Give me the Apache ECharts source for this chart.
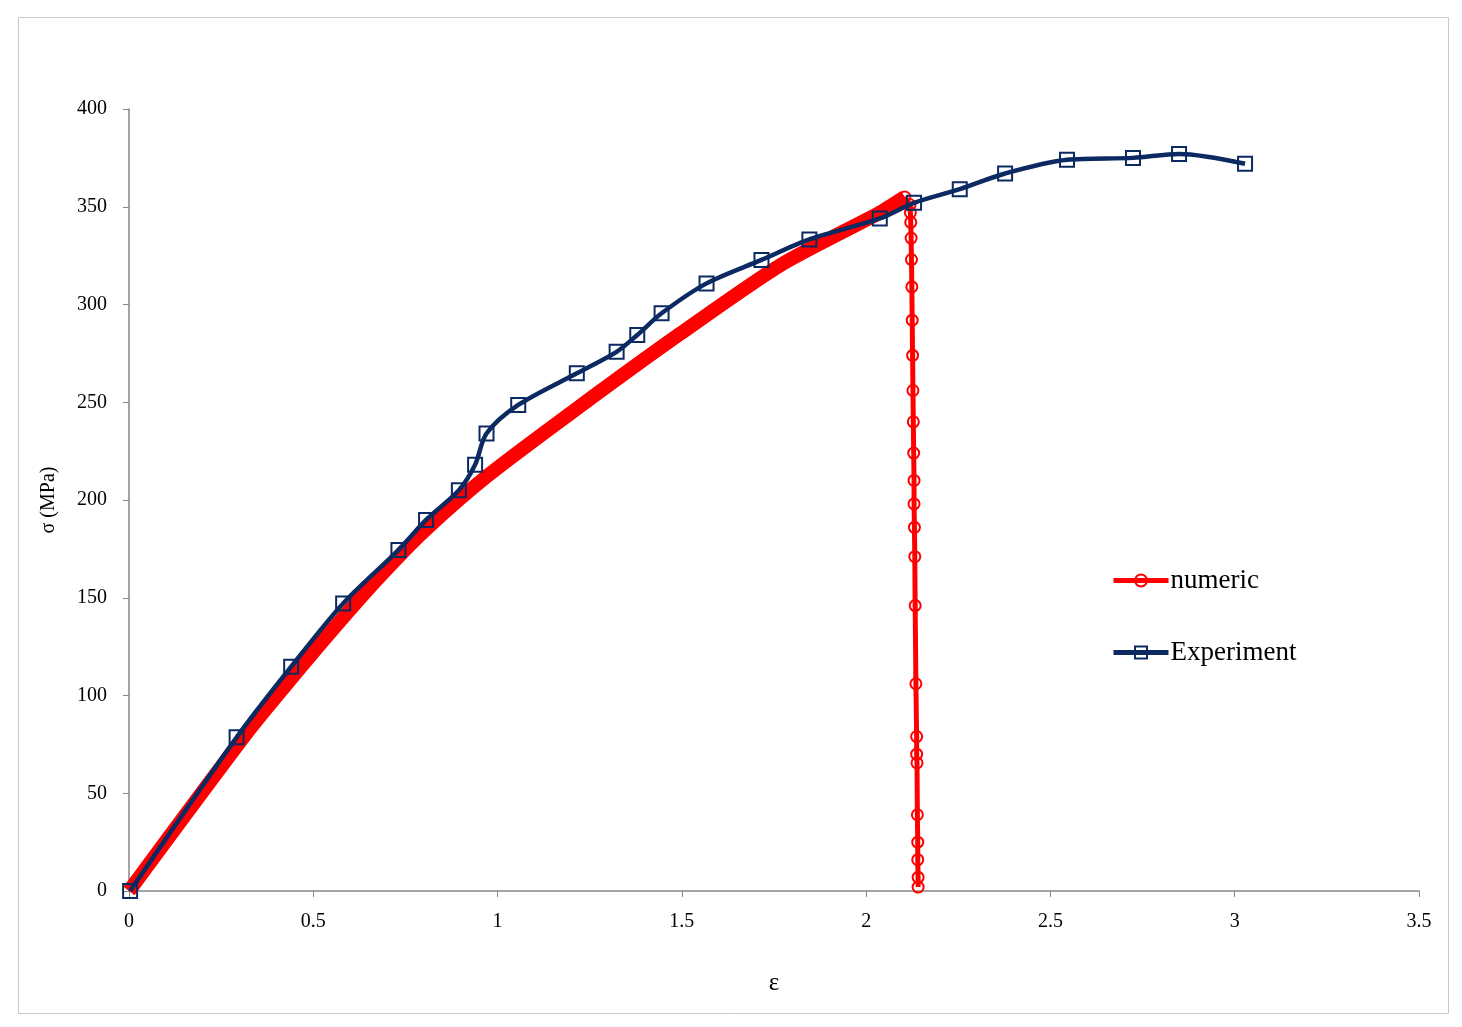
<!DOCTYPE html>
<html>
<head>
<meta charset="utf-8">
<script src="https://cdn.jsdelivr.net/npm/echarts@6/dist/echarts.min.js"></script>
<style>
  html, body { margin: 0; padding: 0; background: #fff; }
  #main { width: 1462px; height: 1027px; }
</style>
</head>
<body>
<div id="main"></div>
<script>
// numeric: loading part (dense, drawn as a thick band)
var numRiseX = [0, 0.32, 0.455, 0.563, 0.681, 0.8, 0.97, 1.224, 1.495, 1.766, 2.037, 2.105]
var numRiseY = [0, 81, 112, 136, 161, 184, 212, 248, 285, 320, 347, 355]
// numeric: drop after failure (with circle markers)
var numDropX = [2.105, 2.119, 2.12, 2.121, 2.122, 2.123, 2.124, 2.125, 2.126, 2.127, 2.128, 2.129, 2.13, 2.13, 2.131, 2.132, 2.133, 2.135, 2.137, 2.137, 2.138, 2.139, 2.14, 2.14, 2.141, 2.141]
var numDropY = [355, 351, 347, 342, 334, 323, 309, 292, 274, 256, 240, 224, 210, 198, 186, 171, 146, 106, 79, 70, 65.5, 39, 25, 16, 7, 2]
// Experiment
var expX = [0.003, 0.292, 0.44, 0.581, 0.731, 0.806, 0.895, 0.939, 0.97, 1.056, 1.215, 1.323, 1.379, 1.445, 1.567, 1.716, 1.846, 2.037, 2.13, 2.254, 2.377, 2.545, 2.724, 2.849, 3.028]
var expY = [0, 78.6, 114.7, 147.1, 174.4, 189.8, 205, 218, 234, 248.6, 264.8, 275.8, 284.4, 295.5, 310.8, 322.8, 333.3, 344, 352, 359, 367, 374, 375, 377, 372]

var xTicks = { min: 0, max: 3.5, interval: 0.5 }
var yTicks = { min: 0, max: 400, interval: 50 }

var zip = function(xs, ys) {
    var out = []
    for (var i = 0; i < xs.length; i++) {
        out.push([xs[i], ys[i]])
    }
    return out
}

var red = '#ff0000'
var navy = '#0c2a62'
var axisGrey = '#868686'
var serif = '"Liberation Serif", "DejaVu Serif", serif'

var mychart = echarts.init(document.getElementById('main'))
mychart.setOption({
    animation: false,
    backgroundColor: '#fff',
    graphic: [{
        type: 'rect',
        shape: { x: 18.5, y: 17.5, width: 1430, height: 996 },
        style: { fill: 'none', stroke: '#c8c8c8', lineWidth: 1 },
        z: 0
    }],
    grid: { left: 129, right: 43, top: 109, bottom: 136 },
    legend: {
        orient: 'vertical',
        left: 1106,
        top: 562,
        itemGap: 45,
        itemWidth: 55,
        itemHeight: 15,
        lineStyle: { width: 5 },
        textStyle: { fontFamily: serif, fontSize: 27, color: '#000', padding: [0, 0, 0, -3] },
        data: ['numeric', 'Experiment']
    },
    xAxis: {
        type: 'value',
        min: xTicks.min,
        max: xTicks.max,
        interval: xTicks.interval,
        name: 'ε',
        nameLocation: 'middle',
        nameGap: 80,
        nameTextStyle: { fontFamily: serif, fontSize: 25, color: '#000' },
        axisLine: { lineStyle: { color: axisGrey, width: 1.5 } },
        axisTick: { show: true, length: 6, lineStyle: { color: axisGrey } },
        axisLabel: { fontFamily: serif, fontSize: 20, color: '#000', margin: 21 },
        splitLine: { show: false }
    },
    yAxis: {
        type: 'value',
        min: yTicks.min,
        max: yTicks.max,
        interval: yTicks.interval,
        name: 'σ (MPa)',
        nameLocation: 'middle',
        nameGap: 70,
        nameTextStyle: { fontFamily: serif, fontSize: 20, color: '#000' },
        axisLine: { show: true, lineStyle: { color: axisGrey, width: 1.5 } },
        axisTick: { show: true, length: 6, lineStyle: { color: axisGrey } },
        axisLabel: { fontFamily: serif, fontSize: 20, color: '#000', margin: 22 },
        splitLine: { show: false }
    },
    series: [
        {
            name: 'numeric',
            type: 'line',
            data: zip(numDropX, numDropY),
            symbol: 'circle',
            symbolSize: 11,
            showSymbol: true,
            lineStyle: { color: red, width: 5 },
            itemStyle: { color: 'rgba(0,0,0,0)', borderColor: red, borderWidth: 2 },
            z: 2
        },
        {
            name: 'numeric',
            type: 'line',
            data: zip(numRiseX, numRiseY),
            smooth: 0.25,
            symbol: 'none',
            lineStyle: { color: red, width: 14 },
            itemStyle: { color: red },
            z: 2
        },
        {
            name: 'Experiment',
            type: 'line',
            data: zip(expX, expY),
            smooth: 0.3,
            symbol: 'rect',
            symbolSize: 14,
            showSymbol: true,
            lineStyle: { color: navy, width: 4.5 },
            itemStyle: { color: 'rgba(0,0,0,0)', borderColor: navy, borderWidth: 2 },
            z: 3
        }
    ]
})
</script>
</body>
</html>
